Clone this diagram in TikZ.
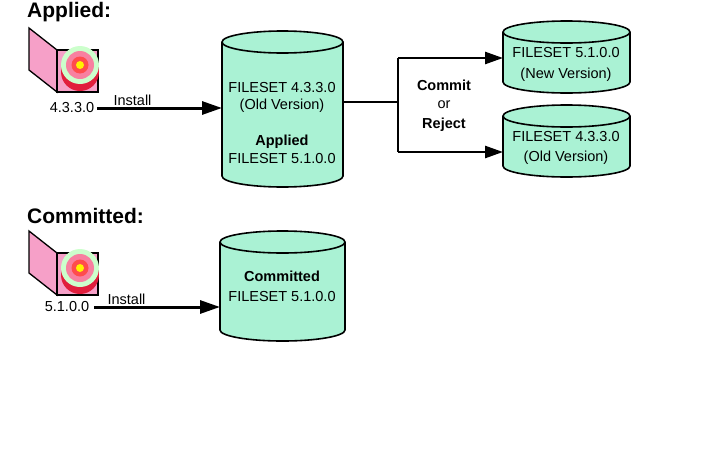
\documentclass[tikz,border=0pt]{standalone}
\usepackage{fontspec}
\setmainfont{Liberation Sans}
\usetikzlibrary{arrows.meta, positioning}
\definecolor{cylfill}{RGB}{170,242,212}
\definecolor{boxpink}{RGB}{246,160,200}
\definecolor{discred}{RGB}{225,30,60}
\tikzset{
    txt/.style={font=\fontsize{14.5}{16}\selectfont, inner sep=0pt},
    btxt/.style={txt, font=\fontsize{14.5}{16}\selectfont\bfseries},
    title/.style={font=\fontsize{21}{24}\selectfont\bfseries, anchor=west, inner sep=0pt},
    flow/.style={line width=3pt, -{Triangle[length=20pt,width=13pt]}},
    split/.style={line width=2.6pt, -{Triangle[length=18pt,width=12pt]}},
}
% cylinder: name, left x, right x, top y, bottom y
\newcommand{\drawcyl}[5]{%
    \pgfmathsetmacro{\rx}{(#3-#2)/2}
    \pgfmathsetmacro{\xc}{(#3+#2)/2}
    \filldraw[fill=cylfill, line width=1.6pt] (#2,#4) -- (#2,#5)
        arc[start angle=180, end angle=0, x radius=\rx, y radius=11] -- (#3,#4)
        arc[start angle=0, end angle=-180, x radius=\rx, y radius=11] -- cycle;
    \draw[line width=1.6pt] (#2,#4) arc[start angle=180, end angle=0, x radius=\rx, y radius=11];
    \coordinate (#1-w) at (#2,{(#4+#5)/2});
    \coordinate (#1-e) at (#3,{(#4+#5)/2});
}
% package icon at top-left corner
\newcommand{\drawpkg}[2]{%
    \begin{scope}[shift={(#1,#2)}]
        \filldraw[fill=boxpink, line width=1.3pt] (0,0) -- (28,22) -- (28,64) -- (0,42) -- cycle;
        \filldraw[fill=boxpink, line width=1.3pt] (28,22) rectangle (69,64);
        \fill[discred] (51,44) circle[radius=19];
        \fill[white!80!green] (51,37) circle[radius=19];
        \fill[boxpink!80!red] (51,37) circle[radius=14];
        \fill[red!60!pink] (51,37) circle[radius=8.5];
        \fill[yellow] (51,37) circle[radius=4];
    \end{scope}
}
\begin{document}
\begin{tikzpicture}[x=1pt, y=-1pt]
    \useasboundingbox (0,0) rectangle (720,450);

    \node[title] (applied) at (27,12) {Applied:};
    \node[title] (committed) at (27,216) {Committed:};

    \drawpkg{29}{28}
    \drawpkg{29}{231}

    \node[txt] (v433) at (72,108) {4.3.3.0};
    \node[txt] (v510) at (67,307) {5.1.0.0};

    % cylinders
    \drawcyl{old}{222}{343}{42}{176}
    \node[txt] (oldA) at (282,88) {FILESET 4.3.3.0};
    \node[txt] (oldB) at (282,106) {(Old Version)};
    \node[btxt] (oldC) at (282,142) {Applied};
    \node[txt] (oldD) at (282,159) {FILESET 5.1.0.0};

    \drawcyl{com}{220}{345}{242}{330}
    \node[btxt] (comA) at (282,276) {Committed};
    \node[txt] (comB) at (282,297) {FILESET 5.1.0.0};

    \drawcyl{new}{503}{630}{32}{82}
    \node[txt] (newA) at (566,53) {FILESET 5.1.0.0};
    \node[txt] (newB) at (566,75) {(New Version)};

    \drawcyl{rej}{503}{630}{116}{166}
    \node[txt] (rejA) at (566,137) {FILESET 4.3.3.0};
    \node[txt] (rejB) at (566,158) {(Old Version)};

    % install arrows
    \draw[flow] (v433.east) ++(3,0) coordinate (s1) -- (old-w |- s1);
    \node[txt, above=2pt of s1, anchor=south west, xshift=16pt] (inst1) {Install};
    \draw[flow] (v510.east) ++(5,0) coordinate (s2) -- (com-w |- s2);
    \node[txt, above=2pt of s2, anchor=south west, xshift=13pt] (inst2) {Install};

    % commit / reject
    \coordinate (fork) at (398,102);
    \draw[line width=2.6pt] (old-e |- fork) -- (fork);
    \draw[line width=2.6pt] (398,58) coordinate (ftop) -- (398,152) coordinate (fbot);
    \draw[split] (ftop) -- (new-w |- ftop);
    \draw[split] (fbot) -- (rej-w |- fbot);
    \node[btxt] (commit) at (444,85) {Commit};
    \node[txt] (or) at (444,105) {or};
    \node[btxt] (reject) at (444,125) {Reject};
\end{tikzpicture}
\end{document}
